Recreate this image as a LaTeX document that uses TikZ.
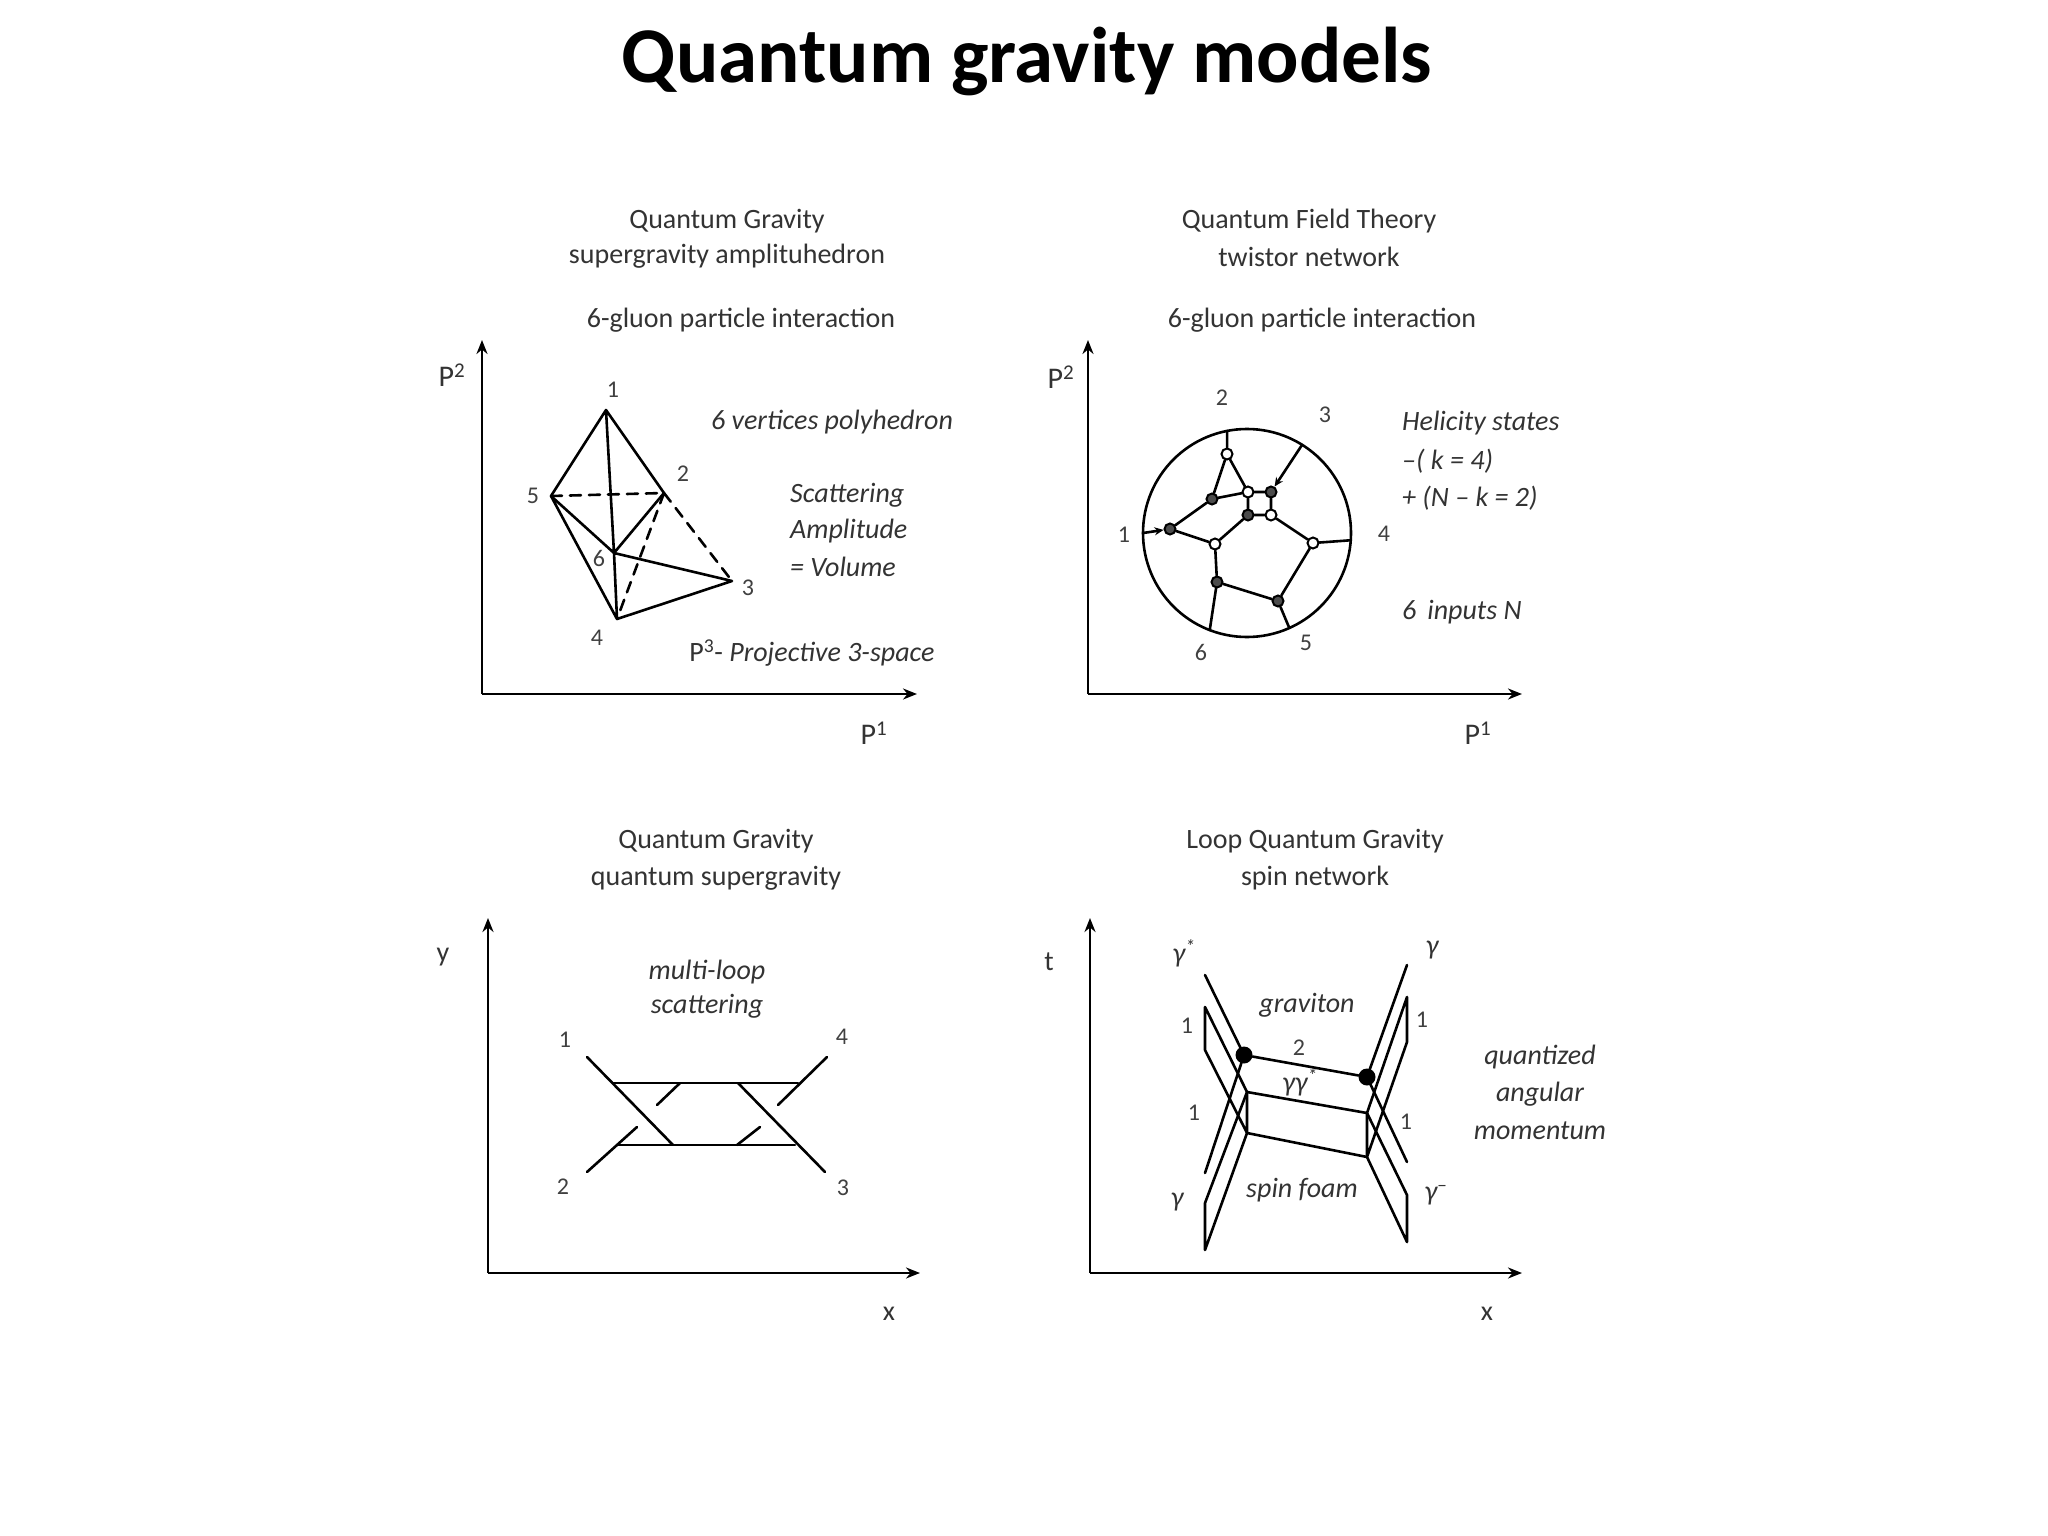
\documentclass[tikz,border=0pt]{standalone}
\usepackage{fontspec}
\setmainfont{Carlito}
\usetikzlibrary{calc,arrows.meta}
\begin{document}
\begin{tikzpicture}[x=1pt,y=-1pt,
  ln/.style={line width=2.6pt,line cap=round,line join=round},
  dsh/.style={ln,dash pattern=on 11pt off 8pt},
  ax/.style={line width=2.8pt,-{Stealth[length=14pt,width=11pt]}},
  lbl/.style={text=black!80,font=\fontsize{28}{32}\selectfont,inner sep=0pt},
  it/.style={lbl,font=\fontsize{28}{32}\selectfont\itshape},
  num/.style={text=black!75,font=\fontsize{24}{28}\selectfont,inner sep=0pt},
  onode/.style={circle,draw,line width=2pt,fill=white,minimum size=11pt,inner sep=0pt},
  fnode/.style={circle,draw,line width=2pt,fill=black!70,minimum size=11pt,inner sep=0pt},
  dotb/.style={circle,fill=black,minimum size=17pt,inner sep=0pt}]
\useasboundingbox[fill=white] (0,0) rectangle (2048,1536);
\node[font=\fontsize{79}{83}\selectfont\bfseries,inner sep=0pt] (title) at (1027,61) {Quantum gravity models};

%% Quadrant 1
\node[lbl] (t1a) at (727,221) {Quantum Gravity};
\node[lbl] (t1b) at (727,256) {supergravity amplituhedron};
\node[lbl] (t1c) at (741,320) {6-gluon particle interaction};
\coordinate (o1) at (482,694);
\coordinate (y1) at (482,340);
\coordinate (x1) at (917,694);
\draw[ax] (o1) -- (y1);
\draw[ax] (o1) -- (x1);
\node[lbl,font=\fontsize{30}{34}\selectfont] (p2a) at (452,375) {P\textsuperscript{2}};
\node[lbl,font=\fontsize{30}{34}\selectfont] (p1a) at (874,733) {P\textsuperscript{1}};
\coordinate (v1) at (606,410);
\coordinate (v2) at (664,493);
\coordinate (v5) at (551,496);
\coordinate (v6) at (614,553);
\coordinate (v3) at (732,581);
\coordinate (v4) at (617,619);
\draw[ln] (v1)--(v5) (v1)--(v2) (v1)--(v6) (v5)--(v6) (v5)--(v4) (v6)--(v2) (v6)--(v4) (v6)--(v3) (v4)--(v3);
\draw[dsh] (v5)--(v2) (v2)--(v3) (v2)--(v4);
\node[num] (n1) at (613,390) {1};
\node[num] (n2) at (683,474) {2};
\node[num] (n5) at (533,496) {5};
\node[num] (n6) at (599,558) {6};
\node[num] (n3) at (748,588) {3};
\node[num] (n4) at (597,638) {4};
\node[it] (a1) at (832,422) {6 vertices polyhedron};
\node[it,anchor=west] (a2) at (790,495) {Scattering};
\node[it,anchor=west] (a3) at (790,531) {Amplitude};
\node[it,anchor=west] (a4) at (790,567) {= Volume};
\node[lbl] (a5) at (812,653) {P\textsuperscript{3}- \textit{Projective 3-space}};

%% Quadrant 2
\node[lbl] (t2a) at (1309,221) {Quantum Field Theory};
\node[lbl] (t2b) at (1309,257) {twistor network};
\node[lbl] (t2c) at (1322,320) {6-gluon particle interaction};
\coordinate (o2) at (1088,694);
\coordinate (y2) at (1088,340);
\coordinate (x2) at (1522,694);
\draw[ax] (o2) -- (y2);
\draw[ax] (o2) -- (x2);
\node[lbl,font=\fontsize{30}{34}\selectfont] (p2b) at (1061,377) {P\textsuperscript{2}};
\node[lbl,font=\fontsize{30}{34}\selectfont] (p1b) at (1478,733) {P\textsuperscript{1}};
\coordinate (c) at (1247,533);
\draw[ln] (c) circle (104pt);
\coordinate (b1) at ($(c)+(180:104)$);
\coordinate (b2) at ($(c)+(-101:104)$);
\coordinate (b3) at ($(c)+(-58:104)$);
\coordinate (b4) at ($(c)+(4:104)$);
\coordinate (b5) at ($(c)+(66:104)$);
\coordinate (b6) at ($(c)+(111:104)$);
\node[onode] (A) at (1227,454) {};
\node[fnode] (B) at (1212,499) {};
\node[onode] (C) at (1248,492) {};
\node[fnode] (D) at (1271,492) {};
\node[fnode] (E) at (1248,515) {};
\node[onode] (F) at (1271,515) {};
\node[fnode] (G) at (1170,529) {};
\node[onode] (H) at (1215,544) {};
\node[onode] (I) at (1313,543) {};
\node[fnode] (J) at (1217,582) {};
\node[fnode] (K) at (1278,601) {};
\draw[ln] (b2)--(A) (A)--(B) (A)--(C) (B)--(G) (B)--(C) (C)--(D) (C)--(E) (D)--(F) (E)--(F)
  (G)--(H) (H)--(E) (F)--(I) (I)--(b4) (I)--(K) (H)--(J) (J)--(K) (J)--(b6) (K)--(b5);
\draw[ln,-{Stealth[length=9pt,width=8pt]}] (b1)--(G);
\draw[ln,-{Stealth[length=9pt,width=8pt]}] (b3)--(D);
\node[num] (m2) at (1222,398) {2};
\node[num] (m3) at (1325,415) {3};
\node[num] (m1) at (1124,535) {1};
\node[num] (m4) at (1384,534) {4};
\node[num] (m6) at (1201,652) {6};
\node[num] (m5) at (1306,643) {5};
\node[it,anchor=west] (h1) at (1402,423) {Helicity states};
\node[it,anchor=west] (h2) at (1402,461) {–( k = 4)};
\node[it,anchor=west] (h3) at (1402,498) {+ (N – k = 2)};
\node[it,anchor=west] (h4) at (1402,612) {6\, inputs N};

%% Quadrant 3
\node[lbl] (t3a) at (716,841) {Quantum Gravity};
\node[lbl] (t3b) at (716,878) {quantum supergravity};
\coordinate (o3) at (488,1273);
\coordinate (y3) at (488,918);
\coordinate (x3) at (920,1273);
\draw[ax] (o3) -- (y3);
\draw[ax] (o3) -- (x3);
\node[lbl] (ylab) at (443,957) {y};
\node[lbl] (xlab1) at (889,1314) {x};
\coordinate (r1a) at (613,1083);
\coordinate (r1b) at (798,1083);
\coordinate (r2a) at (618,1145);
\coordinate (r2b) at (795,1145);
\draw[ln] (r1a)--(r1b) (r2a)--(r2b);
\coordinate (e1) at (587,1057);
\coordinate (e1b) at (673,1145);
\coordinate (e2) at (587,1172);
\coordinate (e2b) at (637,1127);
\coordinate (e2c) at (657,1105);
\coordinate (e2d) at (680,1083);
\coordinate (e3) at (738,1083);
\coordinate (e3b) at (825,1172);
\coordinate (e4) at (827,1057);
\coordinate (e4b) at (778,1105);
\coordinate (e4c) at (760,1127);
\coordinate (e4d) at (737,1145);
\draw[ln] (e1)--(e1b) (e2)--(e2b) (e2c)--(e2d) (e3)--(e3b) (e4)--(e4b) (e4c)--(e4d);
\node[num] (q1) at (565,1040) {1};
\node[num] (q4) at (842,1037) {4};
\node[num] (q2) at (563,1187) {2};
\node[num] (q3) at (843,1188) {3};
\node[it] (ml1) at (707,972) {multi-loop};
\node[it] (ml2) at (707,1006) {scattering};

%% Quadrant 4
\node[lbl] (t4a) at (1315,841) {Loop Quantum Gravity};
\node[lbl] (t4b) at (1315,878) {spin network};
\coordinate (o4) at (1090,1273);
\coordinate (y4) at (1090,918);
\coordinate (x4) at (1522,1273);
\draw[ax] (o4) -- (y4);
\draw[ax] (o4) -- (x4);
\node[lbl] (tlab) at (1049,962) {t};
\node[lbl] (xlab2) at (1487,1314) {x};
\coordinate (la) at (1205,975);
\coordinate (lb) at (1205,1173);
\coordinate (p1) at (1205,1007);
\coordinate (p2) at (1247,1092);
\coordinate (p3) at (1247,1133);
\coordinate (p4) at (1205,1050);
\coordinate (p5) at (1205,1203);
\coordinate (p6) at (1205,1250);
\coordinate (ra) at (1407,965);
\coordinate (rb) at (1407,1162);
\coordinate (s1) at (1407,997);
\coordinate (s2) at (1407,1042);
\coordinate (s3) at (1367,1113);
\coordinate (s4) at (1367,1157);
\coordinate (s5) at (1407,1195);
\coordinate (s6) at (1407,1242);
\node[dotb] (dl) at (1244,1055) {};
\node[dotb] (dr) at (1367,1077) {};
\draw[ln] (la)--(dl.center)--(lb);
\draw[ln] (ra)--(dr.center)--(rb);
\draw[ln] (p1)--(p2)--(p3)--(p4)--cycle;
\draw[ln] (p2)--(p5)--(p6)--(p3);
\draw[ln] (s1)--(s2)--(s4)--(s3)--cycle;
\draw[ln] (s3)--(s5)--(s6)--(s4);
\draw[ln] (dl)--(dr) (p2)--(s3) (p3)--(s4);
\node[it] (g1) at (1184,953) {γ\textsuperscript{*}};
\node[it] (g2) at (1432,950) {γ};
\node[it] (g3) at (1177,1202) {γ};
\node[it] (g4) at (1436,1195) {γ\textsuperscript{–}};
\node[it] (gr) at (1307,1005) {graviton};
\node[it] (sf) at (1302,1190) {spin foam};
\node[it] (gg) at (1300,1082) {γγ\textsuperscript{*}};
\node[num] (k1) at (1187,1026) {1};
\node[num] (k2) at (1422,1020) {1};
\node[num] (k3) at (1194,1113) {1};
\node[num] (k4) at (1406,1122) {1};
\node[num] (k5) at (1299,1048) {2};
\node[it] (qa) at (1540,1057) {quantized};
\node[it] (qb) at (1540,1094) {angular};
\node[it] (qc) at (1540,1131) {momentum};
\end{tikzpicture}
\end{document}
